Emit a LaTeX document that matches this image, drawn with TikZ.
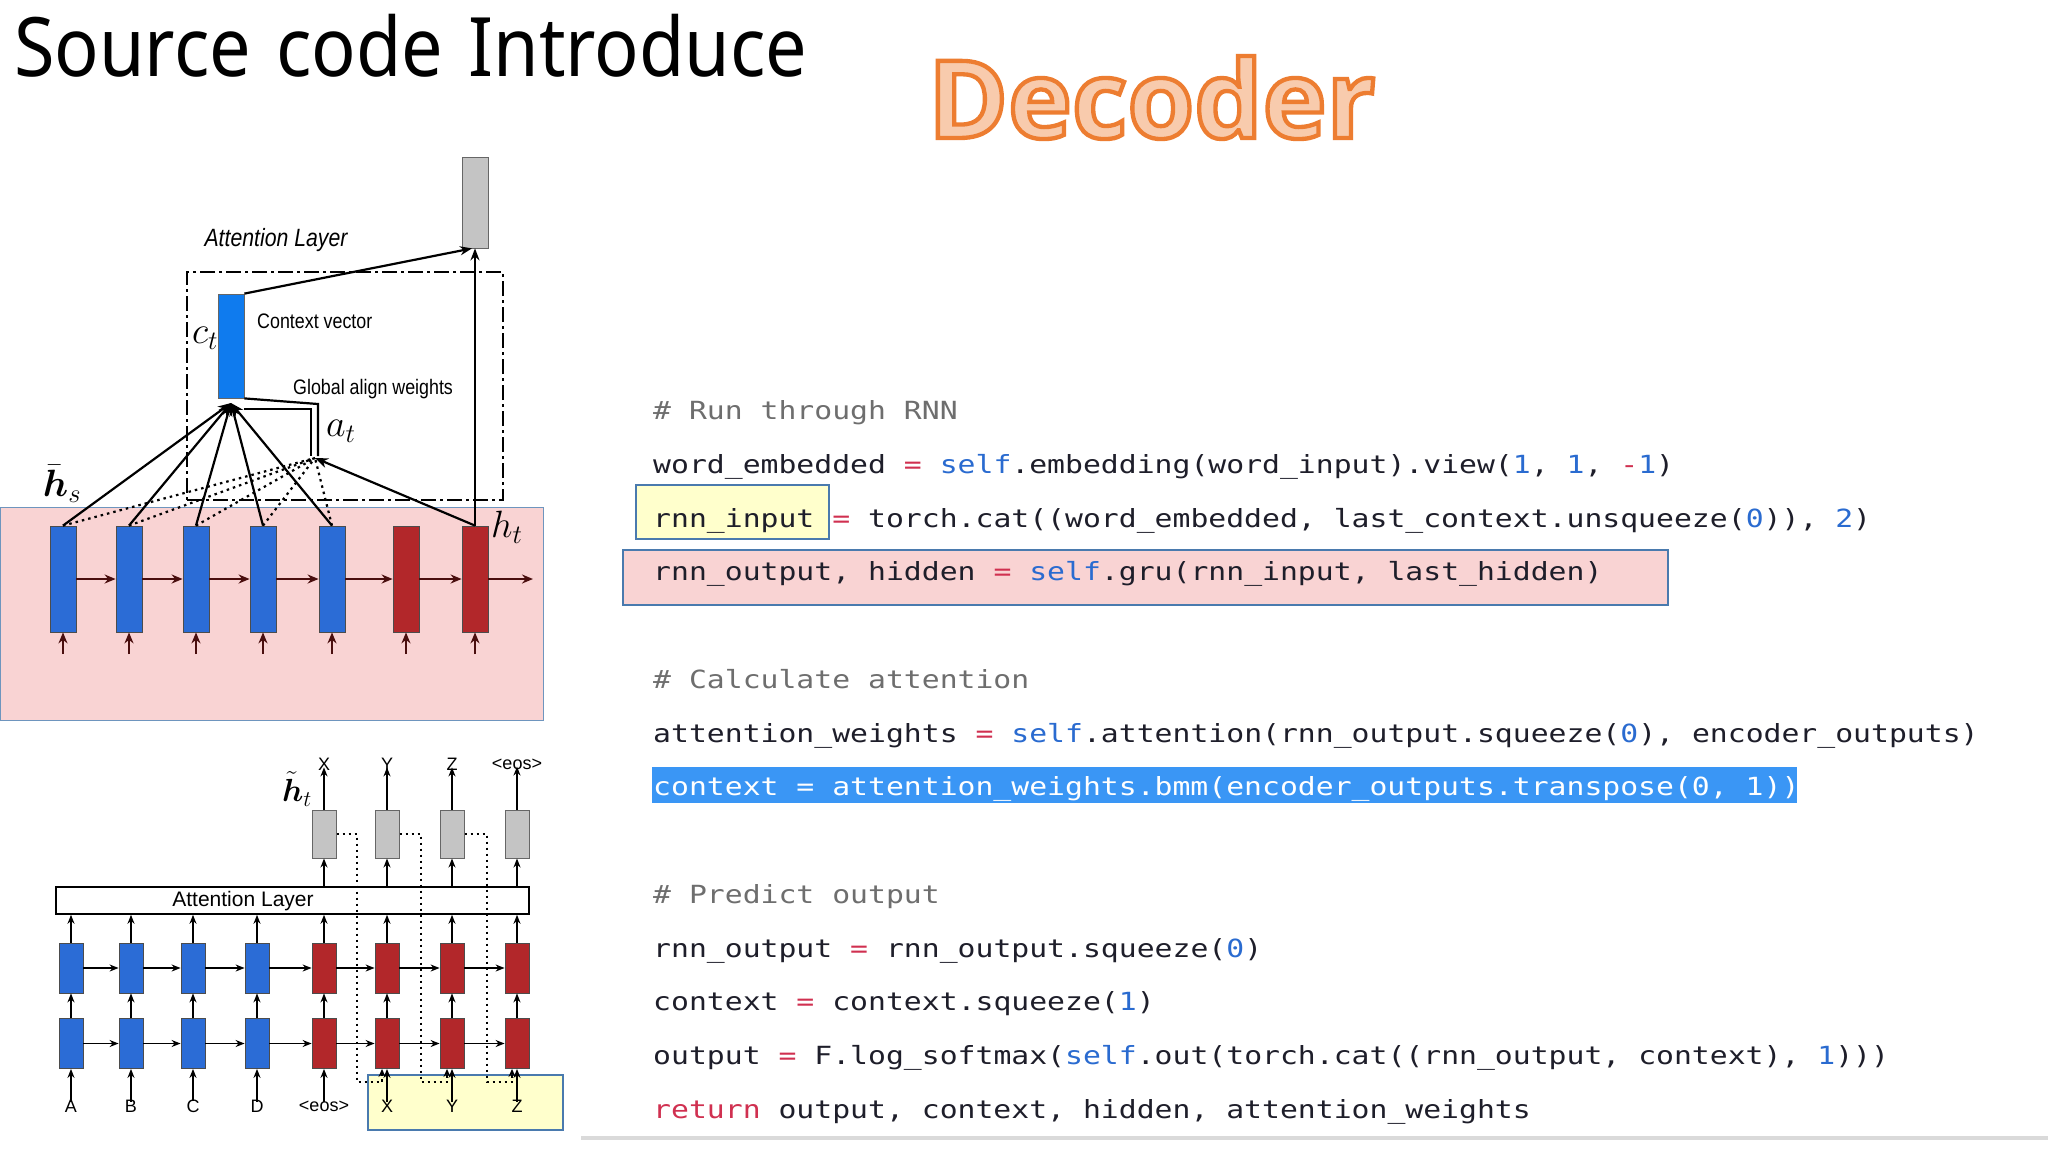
\documentclass[tikz,border=0pt]{standalone}
\usepackage{fix-cm}
\usepackage{fontspec}
\usepackage{bm}
\usetikzlibrary{arrows.meta}
\setmainfont{Liberation Sans}
\newfontfamily\codefont[FakeStretch=1.19]{DejaVu Sans Mono}
\newfontfamily\titlefont[FakeStretch=0.9]{Noto Sans}
\newfontface\decface[FakeBold=4]{Open Sans Bold}
\newfontfamily\diagfont[FakeStretch=0.85]{Liberation Sans}
\definecolor{codeblk}{HTML}{1E1E2A}
\definecolor{codecmt}{HTML}{6E6E6E}
\definecolor{codeblue}{HTML}{2A6BD0}
\definecolor{codered}{HTML}{D03050}
\definecolor{selblue}{HTML}{3A96F5}
\definecolor{pinkbg}{HTML}{F9D3D3}
\definecolor{yellowbg}{HTML}{FFFFCC}
\definecolor{boxborder}{HTML}{4A7AAE}
\definecolor{decfill}{HTML}{F8CBAD}
\definecolor{encblue}{HTML}{2B6CD6}
\definecolor{ctblue}{HTML}{0F7BEE}
\definecolor{decred}{HTML}{B2272A}
\definecolor{cellgray}{HTML}{C4C4C4}
\definecolor{maroon}{HTML}{4A0E0E}
\definecolor{rulegray}{HTML}{DADADA}
\newcommand\ckw[1]{\textcolor{codeblue}{#1}}
\newcommand\cnum[1]{\textcolor{codeblue}{#1}}
\newcommand\ceq[1]{\textcolor{codered}{#1}}
\newcommand\cret[1]{\textcolor{codered}{#1}}
\tikzset{
  codeline/.style={anchor=base west, inner sep=0pt, font=\codefont\fontsize{25}{25}\selectfont, text=codeblk},
  cmtline/.style={codeline, text=codecmt},
  cell/.style={draw=black!70, line width=0.8pt, minimum width=26pt, minimum height=106pt, inner sep=0pt},
  cellb/.style={draw=black!70, line width=0.8pt, minimum width=24pt, minimum height=50pt, inner sep=0pt},
  harrow/.style={line width=2pt, draw=maroon, -{Stealth[length=11pt,width=9pt]}},
  barrow/.style={line width=1.6pt, -{Stealth[length=9pt,width=7pt]}},
  fb/.style={line width=1.8pt, dash pattern=on 2.5pt off 3.5pt, -{Stealth[length=8pt,width=7pt]}},
  sline/.style={line width=2.2pt},
  mathlbl/.style={inner sep=0pt, font=\fontsize{38}{40}\selectfont},
  smalllbl/.style={inner sep=0pt, font=\fontsize{18}{20}\selectfont},
}
\begin{document}
\begin{tikzpicture}[x=1pt,y=-1pt]
\useasboundingbox (0,0) rectangle (2048,1152);
\fill[white] (0,0) rectangle (2048,1152);

% ---------- titles ----------
\node[anchor=base west, inner sep=0pt, font=\titlefont\fontsize{82}{82}\selectfont] (title) at (14,76) {Source\hspace{6pt} code\hspace{6pt} Introduce};
\node[anchor=base west, inner sep=0pt, font=\decface\fontsize{108}{108}\selectfont] (dec) at (928,138)
  {\color{decfill}\special{pdf:code 0.929 0.490 0.192 RG}Decoder};

% ---------- code highlights ----------
\node[draw=boxborder, line width=1.5pt, fill=yellowbg, minimum width=193pt, minimum height=54pt, inner sep=0pt] (ybox1) at (732.5,512) {};
\node[draw=boxborder, line width=1.5pt, fill=pinkbg, minimum width=1045pt, minimum height=55pt, inner sep=0pt] (pbox1) at (1145.5,577.5) {};
\node[fill=selblue, minimum width=1145pt, minimum height=36pt, inner sep=0pt] (sel) at (1224.5,785) {};

% ---------- code ----------
\node[cmtline] (l0) at (653,419.5) {\# Run through RNN};
\node[codeline] (l1) at (653,473.25) {word\_embedded \ceq{=} \ckw{self}.embedding(word\_input).view(\cnum{1}, \cnum{1}, \textcolor{codered}{-}\cnum{1})};
\node[codeline] (l2) at (653,527) {rnn\_input \ceq{=} torch.cat((word\_embedded, last\_context.unsqueeze(\cnum{0})), \cnum{2})};
\node[codeline] (l3) at (653,580.75) {rnn\_output, hidden \ceq{=} \ckw{self}.gru(rnn\_input, last\_hidden)};
\node[cmtline] (l5) at (653,688.25) {\# Calculate attention};
\node[codeline] (l6) at (653,742) {attention\_weights \ceq{=} \ckw{self}.attention(rnn\_output.squeeze(\cnum{0}), encoder\_outputs)};
\node[codeline, text=white] (l7) at (653,795.75) {context = attention\_weights.bmm(encoder\_outputs.transpose(0, 1))};
\node[cmtline] (l9) at (653,903.25) {\# Predict output};
\node[codeline] (l10) at (653,957) {rnn\_output \ceq{=} rnn\_output.squeeze(\cnum{0})};
\node[codeline] (l11) at (653,1010.75) {context \ceq{=} context.squeeze(\cnum{1})};
\node[codeline] (l12) at (653,1064.5) {output \ceq{=} F.log\_softmax(\ckw{self}.out(torch.cat((rnn\_output, context), \cnum{1})))};
\node[codeline] (l13) at (653,1118.25) {\cret{return} output, context, hidden, attention\_weights};
\draw[rulegray, line width=4pt] (581,1138) -- (2048,1138);

% ---------- top diagram ----------
\node[draw=boxborder!80, line width=1pt, fill=pinkbg, minimum width=543pt, minimum height=213pt, inner sep=0pt] (pinkbg) at (271.5,613.5) {};
\node[draw, line width=2.4pt, dash pattern=on 15pt off 4pt on 3pt off 4pt, minimum width=316pt, minimum height=228pt, inner sep=0pt] (attbox) at (345,386) {};
\node[draw=black!60, line width=0.8pt, fill=cellgray, minimum width=26pt, minimum height=91pt, inner sep=0pt] (g) at (475,202.5) {};
\node[draw=black!60, line width=0.8pt, fill=ctblue, minimum width=26pt, minimum height=104pt, inner sep=0pt] (ct) at (231,346) {};
\node[inner sep=0pt, font=\diagfont\itshape\fontsize{25}{25}\selectfont] (attlbl) at (276,240) {Attention Layer};
\node[anchor=west, inner sep=0pt, font=\diagfont\fontsize{21}{21}\selectfont] (ctxlbl) at (257,321) {Context vector};
\node[anchor=west, inner sep=0pt, font=\diagfont\fontsize{21}{21}\selectfont] (gawlbl) at (293,389) {Global align weights};
\node[mathlbl] (ctlbl) at (205,338) {$c_t$};
\node[mathlbl, anchor=west] (atlbl) at (326,431) {$a_t$};
\node[mathlbl] (hslbl) at (62,484) {$\bar{\bm h}_s$};
\node[mathlbl, anchor=west] (htlbl) at (491,527) {$h_t$};
\coordinate (j1) at (231,403);
\coordinate (j2) at (315,458);
\foreach \i/\x/\c in {1/63/encblue,2/129/encblue,3/196/encblue,4/263/encblue,5/332/encblue,6/406/decred,7/475/decred} {
  \node[cell, fill=\c] (t\i) at (\x,579) {};
  \coordinate (tin\i) at (\x,654);
  \draw[harrow] (tin\i) -- (t\i.south);
}
\coordinate (tout) at (533,579);
\foreach \i/\j in {1/2,2/3,3/4,4/5,5/6,6/7}
  \draw[harrow] (t\i.east) -- (t\j.west);
\draw[harrow] (t7.east) -- (tout);
\foreach \i in {1,...,5} {
  \draw[line width=2.2pt, dash pattern=on 2.5pt off 4pt] (t\i.north) -- (j2);
  \draw[sline, -{Stealth[length=13pt,width=10pt]}] (t\i.north) -- (j1);
}
\draw[sline, -{Stealth[length=13pt,width=10pt]}] (t7.north) -- (j2);
\draw[sline] (ct.south east) -- (318,404) -- (318,456);
\draw[sline] (244,409) -- (311,409) -- (311,456);
\draw[sline, -{Stealth[length=12pt,width=9pt]}] (ct.north east) -- ([xshift=-3pt]g.south);
\draw[sline, -{Stealth[length=12pt,width=9pt]}] (t7.north) -- (g.south);

% ---------- bottom diagram ----------
\node[draw=boxborder, line width=1.5pt, fill=yellowbg, minimum width=195pt, minimum height=55pt, inner sep=0pt] (ybox2) at (465.5,1102.5) {};
\node[draw, line width=1.6pt, minimum width=473pt, minimum height=27pt, inner sep=0pt] (att) at (292.5,900.5) {};
\node[inner sep=0pt, font=\fontsize{21}{21}\selectfont] (attlbl2) at (243,901) {Attention Layer};
\foreach \i/\x/\c/\t in {1/71/encblue/A,2/131/encblue/B,3/193/encblue/C,4/257/encblue/D,5/324/decred/{<eos>},6/387/decred/X,7/452/decred/Y,8/517/decred/Z} {
  \node[cellb, fill=\c] (a\i) at (\x,968) {};
  \node[cellb, fill=\c] (b\i) at (\x,1043.5) {};
  \node[smalllbl] (il\i) at (\x,1106) {\t};
  \draw[barrow] ([yshift=-2pt]il\i.north) -- (b\i.south);
  \draw[barrow] (b\i.north) -- (a\i.south);
  \draw[barrow] (a\i.north) -- (a\i.north |- att.south);
}
\foreach \i/\j in {1/2,2/3,3/4,4/5,5/6,6/7,7/8} {
  \draw[barrow, line width=1.3pt] (a\i.east) -- (a\j.west);
  \draw[barrow, line width=1.3pt] (b\i.east) -- (b\j.west);
}
\foreach \i/\x/\t in {5/324/X,6/387/Y,7/452/Z,8/517/{<eos>}} {
  \node[draw=black!60, line width=1pt, fill=cellgray, minimum width=24pt, minimum height=48pt, inner sep=0pt] (o\i) at (\x,834) {};
  \node[smalllbl] (ol\i) at (\x,764) {\t};
  \draw[barrow] (o\i.south |- att.north) -- (o\i.south);
  \draw[barrow] (o\i.north) -- ([yshift=3pt]ol\i.south);
}
\node[inner sep=0pt, anchor=east, font=\fontsize{32}{34}\selectfont] (htt) at (312,789) {$\tilde{\bm h}_t$};
\coordinate (v5) at (357,1082);
\coordinate (v6) at (421,1082);
\coordinate (v7) at (487,1082);
\draw[fb] (o5.east) -| (v5) -- ([xshift=-5pt]b6.south |- v5) -- ([xshift=-5pt]b6.south);
\draw[fb] (o6.east) -| (v6) -- ([xshift=-5pt]b7.south |- v6) -- ([xshift=-5pt]b7.south);
\draw[fb] (o7.east) -| (v7) -- ([xshift=-5pt]b8.south |- v7) -- ([xshift=-5pt]b8.south);
\end{tikzpicture}
\end{document}
